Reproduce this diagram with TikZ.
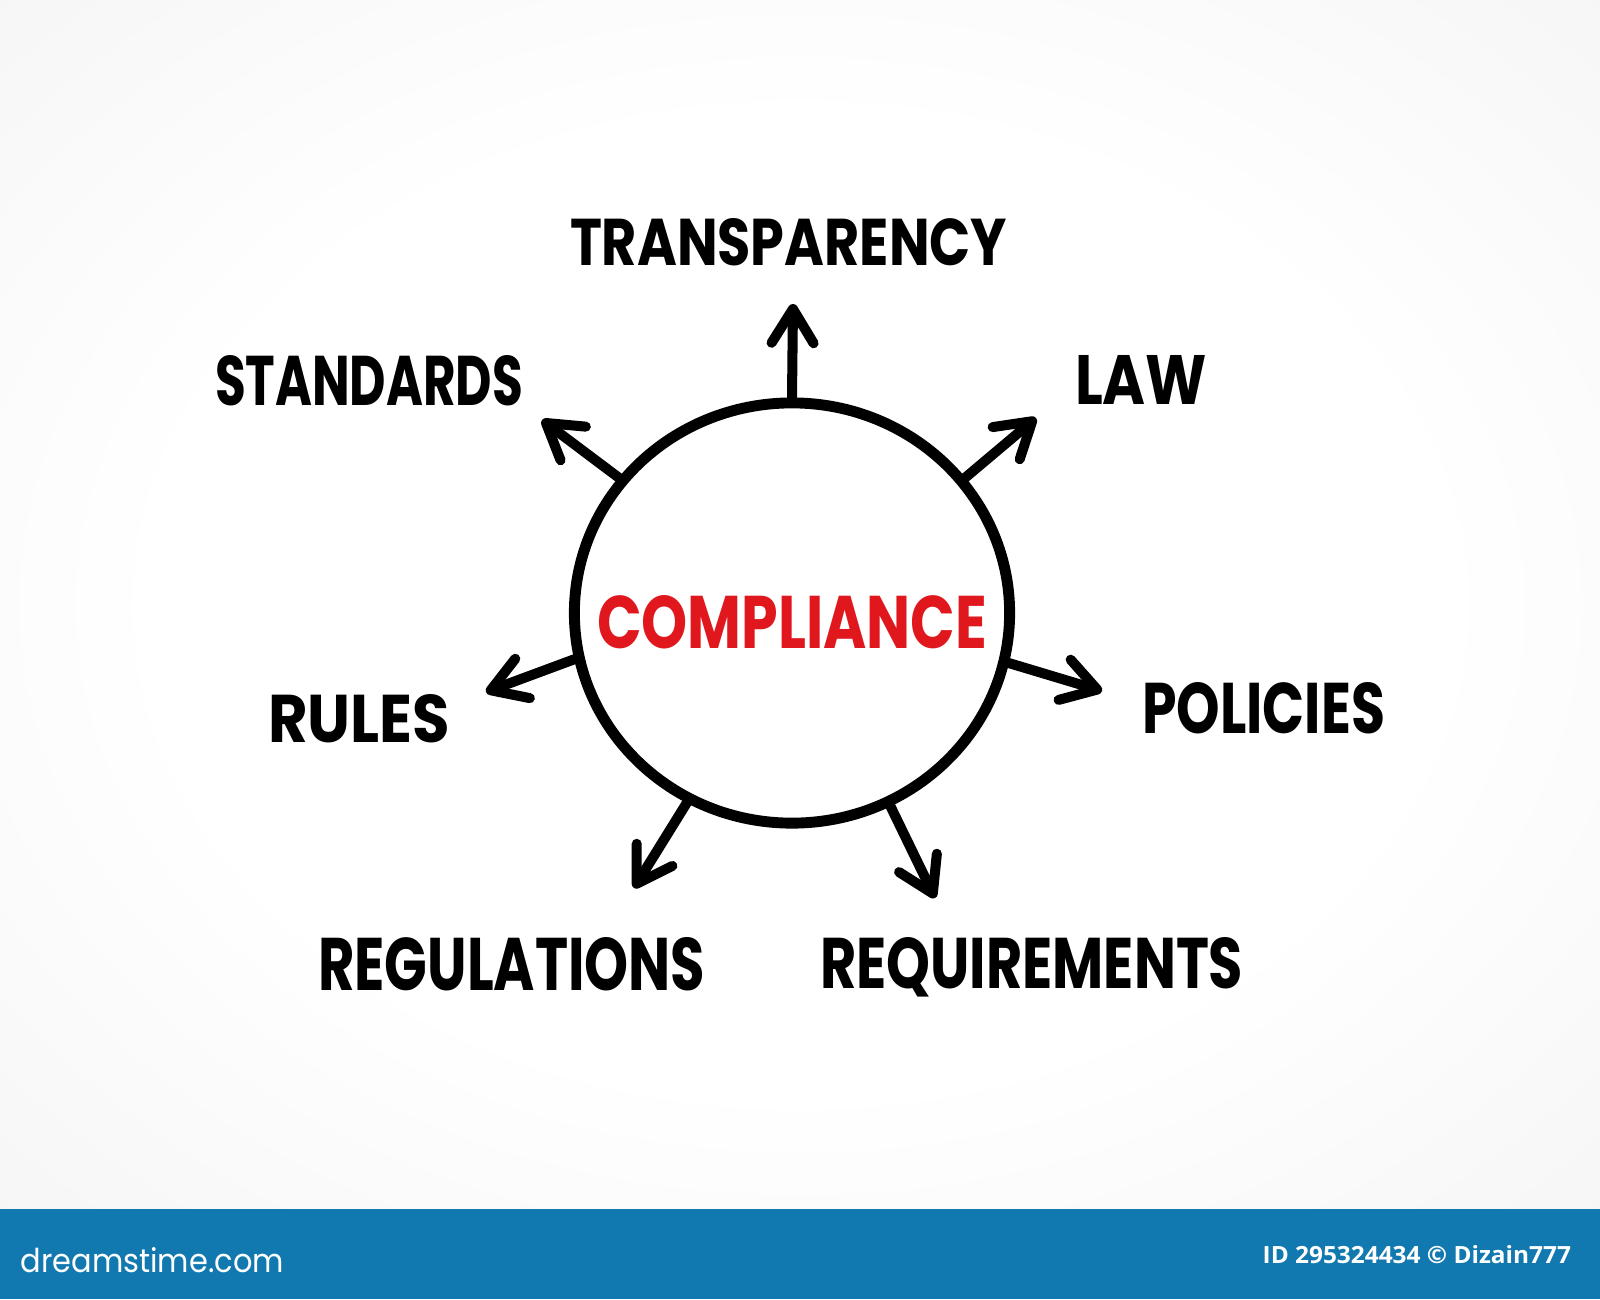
\documentclass[tikz,border=0pt]{standalone}
\usepackage{fontspec}
\usepackage{graphicx}
\usetikzlibrary{arrows.meta,shapes.geometric}
\newfontfamily\handfont{Poppins}
\newfontfamily\idfont{Open Sans}
\definecolor{bgA}{RGB}{238,238,238}
\definecolor{bgB}{RGB}{229,229,229}
\definecolor{barblue}{RGB}{17,120,176}
\definecolor{compred}{RGB}{224,24,30}
\pgfdeclareradialshading{vign}{\pgfpoint{0bp}{0bp}}{color(0bp)=(white); color(20bp)=(white); color(50bp)=(bgA); color(72bp)=(bgB)}
\newcommand{\lbl}[3]{\resizebox{#1cm}{#2cm}{\handfont\bfseries #3}}
\tikzset{
  lab/.style={anchor=base west, inner sep=0pt, outer sep=0pt, text=black},
  arr/.style={line width=2.85pt, line cap=round, line join=round,
    -{Straight Barb[length=3.4mm, width=4.2mm, line cap=round, line join=round]}},
  hub/.style={ellipse, draw=black, line width=3.1pt, inner sep=0pt,
    minimum width=4.35cm, minimum height=4.20cm}
}
\begin{document}
\begin{tikzpicture}[x=0.01cm, y=-0.01cm]
\useasboundingbox (0,0) rectangle (1600,1299);
\shade[shading=vign] (0,0) rectangle (1600,1209);
\fill[barblue] (0,1209) rectangle (1600,1299);

% hub
\node[hub] (c) at (792,613) {};
\node[lab, text=compred] (comp) at (597,648) {\lbl{3.90}{0.53}{COMPLIANCE}};

% labels
\node[lab] (trans) at (570,265) {\lbl{4.37}{0.47}{TRANSPARENCY}};
\node[lab] (stand) at (215,405) {\lbl{3.08}{0.50}{STANDARDS}};
\node[lab] (law)   at (1075,404) {\lbl{1.32}{0.49}{LAW}};
\node[lab] (rules) at (268,742) {\lbl{1.82}{0.48}{RULES}};
\node[lab] (pol)   at (1142,733) {\lbl{2.43}{0.51}{POLICIES}};
\node[lab] (reg)   at (318,990) {\lbl{3.87}{0.53}{REGULATIONS}};
\node[lab] (req)   at (820,988) {\lbl{4.23}{0.51}{REQUIREMENTS}};

% arrow tips
\coordinate (tT) at (793,304);
\coordinate (tS) at (542,420);
\coordinate (tL) at (1036,418);
\coordinate (tR) at (486,692);
\coordinate (tP) at (1102,691);
\coordinate (tG) at (634,888);
\coordinate (tQ) at (935,898);

\draw[arr] (c.90) -- (tT);
\draw[arr] (c.142.8) -- (tS);
\draw[arr] (c.38.9) -- (tL);
\draw[arr] (c.192.6) -- (tR);
\draw[arr] (c.-13.8) -- (tP);
\draw[arr] (c.241.2) -- (tG);
\draw[arr] (c.297.1) -- (tQ);

% bottom bar texts
\node[anchor=base west, inner sep=0pt, text=white] (logo) at (20,1272)
  {\resizebox{2.63cm}{0.25cm}{\handfont dreamstime.com}};
\node[anchor=base west, inner sep=0pt, text=white] (idtxt) at (1262,1263)
  {\resizebox{3.08cm}{0.18cm}{\idfont\bfseries ID 295324434 © Dizain777}};
\end{tikzpicture}
\end{document}
